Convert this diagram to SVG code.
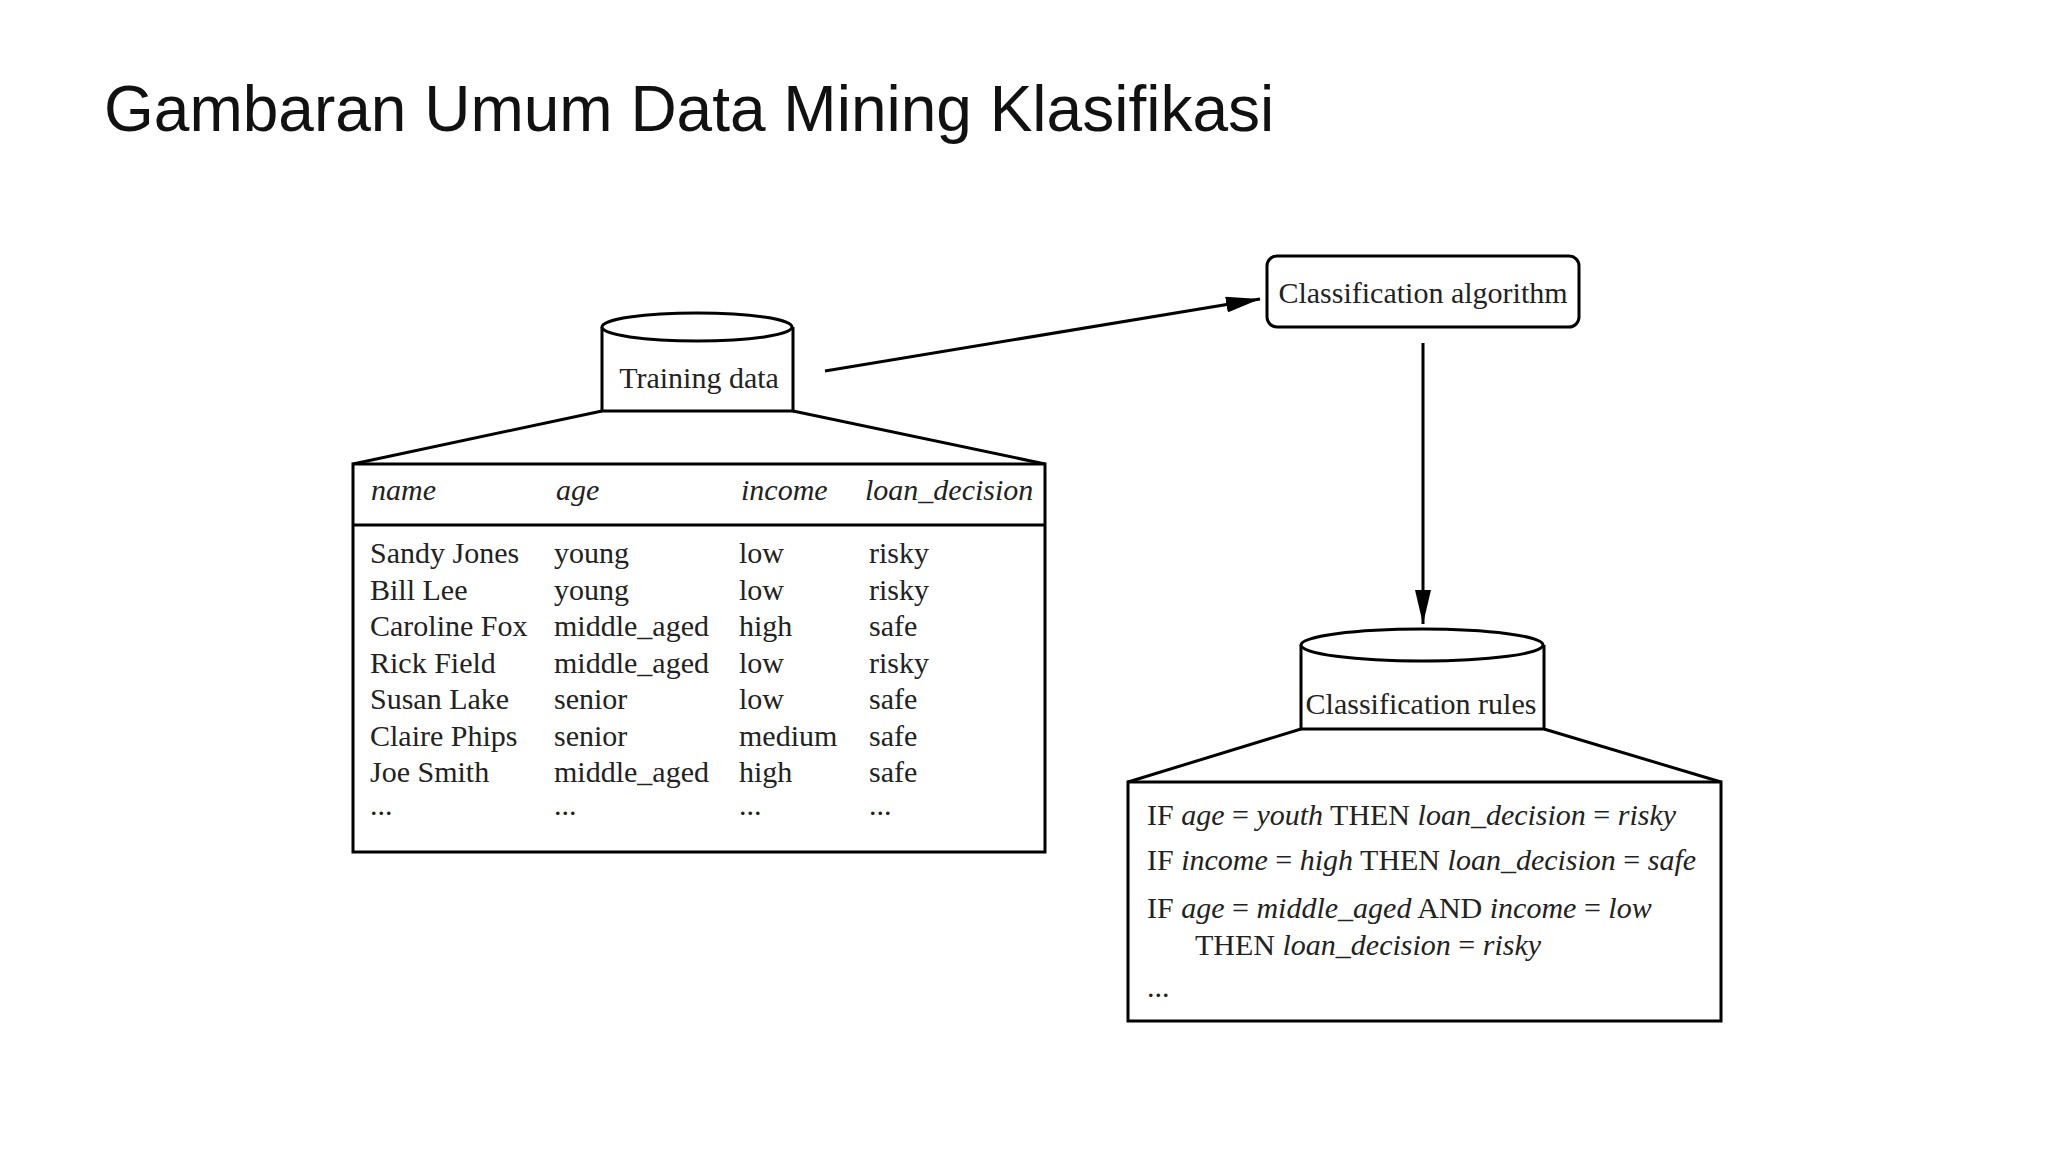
<svg xmlns="http://www.w3.org/2000/svg" width="2048" height="1152" viewBox="0 0 2048 1152">
<defs>
<marker id="ah" markerWidth="12" markerHeight="10" refX="11" refY="5" orient="auto" markerUnits="userSpaceOnUse"><path d="M0,0 L12,5 L0,10 Z" fill="#000"/></marker>
<marker id="ah2" markerWidth="34" markerHeight="16" refX="34" refY="8" orient="auto" markerUnits="userSpaceOnUse"><path d="M0,0 L34,8 L0,16 Z" fill="#000"/></marker>
</defs>
<style>
.s{fill:#fff;stroke:#000;stroke-width:3}
.t{font-family:"Liberation Serif",serif;font-size:30px;fill:#222}
.i{font-style:italic}
.c{text-anchor:middle}
</style>
<rect width="2048" height="1152" fill="#fff"/>
<text x="104" y="131" font-family="Liberation Sans, sans-serif" font-size="64" fill="#111">Gambaran Umum Data Mining Klasifikasi</text>
<g id="training">
<path class="s" d="M602,327 V411 H793 V327"/>
<ellipse class="s" cx="697" cy="327" rx="95" ry="14"/>
<text class="t c" x="699" y="388">Training data</text>
<path class="s" d="M602,411 L353,464 M793,411 L1045,464" fill="none"/>
<rect class="s" x="353" y="464" width="692" height="388"/>
<line x1="353" y1="525" x2="1045" y2="525" stroke="#000" stroke-width="3"/>
<g class="t i"><text x="371" y="500">name</text><text x="556" y="500">age</text><text x="741" y="500">income</text><text x="865" y="500">loan_decision</text></g>
<g class="t">
<text x="370" y="563">Sandy Jones</text><text x="554" y="563">young</text><text x="739" y="563">low</text><text x="869" y="563">risky</text>
<text x="370" y="600">Bill Lee</text><text x="554" y="600">young</text><text x="739" y="600">low</text><text x="869" y="600">risky</text>
<text x="370" y="636">Caroline Fox</text><text x="554" y="636">middle_aged</text><text x="739" y="636">high</text><text x="869" y="636">safe</text>
<text x="370" y="673">Rick Field</text><text x="554" y="673">middle_aged</text><text x="739" y="673">low</text><text x="869" y="673">risky</text>
<text x="370" y="709">Susan Lake</text><text x="554" y="709">senior</text><text x="739" y="709">low</text><text x="869" y="709">safe</text>
<text x="370" y="746">Claire Phips</text><text x="554" y="746">senior</text><text x="739" y="746">medium</text><text x="869" y="746">safe</text>
<text x="370" y="782">Joe Smith</text><text x="554" y="782">middle_aged</text><text x="739" y="782">high</text><text x="869" y="782">safe</text>
<text x="370" y="815">...</text><text x="554" y="815">...</text><text x="739" y="815">...</text><text x="869" y="815">...</text>
</g>
</g>
<g id="algorithm">
<rect class="s" x="1267" y="256" width="312" height="71" rx="10"/>
<text class="t c" x="1423" y="303">Classification algorithm</text>
</g>
<g id="rules">
<path class="s" d="M1301,645 V729 H1544 V645"/>
<ellipse class="s" cx="1422" cy="645" rx="121" ry="16"/>
<text class="t c" x="1421" y="714">Classification rules</text>
<path class="s" d="M1301,729 L1128,782 M1544,729 L1721,782" fill="none"/>
<rect class="s" x="1128" y="782" width="593" height="239"/>
<g class="t">
<text x="1147" y="825">IF <tspan class="i">age</tspan> = <tspan class="i">youth</tspan> THEN <tspan class="i">loan_decision</tspan> = <tspan class="i">risky</tspan></text>
<text x="1147" y="870">IF <tspan class="i">income</tspan> = <tspan class="i">high</tspan> THEN <tspan class="i">loan_decision</tspan> = <tspan class="i">safe</tspan></text>
<text x="1147" y="918">IF <tspan class="i">age</tspan> = <tspan class="i">middle_aged</tspan> AND <tspan class="i">income</tspan> = <tspan class="i">low</tspan></text>
<text x="1195" y="955">THEN <tspan class="i">loan_decision</tspan> = <tspan class="i">risky</tspan></text>
<text x="1147" y="997">...</text>
</g>
</g>
<g id="connectors" stroke="#000" stroke-width="3" fill="none">
<line x1="825" y1="371" x2="1260" y2="299" marker-end="url(#ah2)"/>
<line x1="1423" y1="343" x2="1423" y2="624" marker-end="url(#ah2)"/>
</g>
</svg>
